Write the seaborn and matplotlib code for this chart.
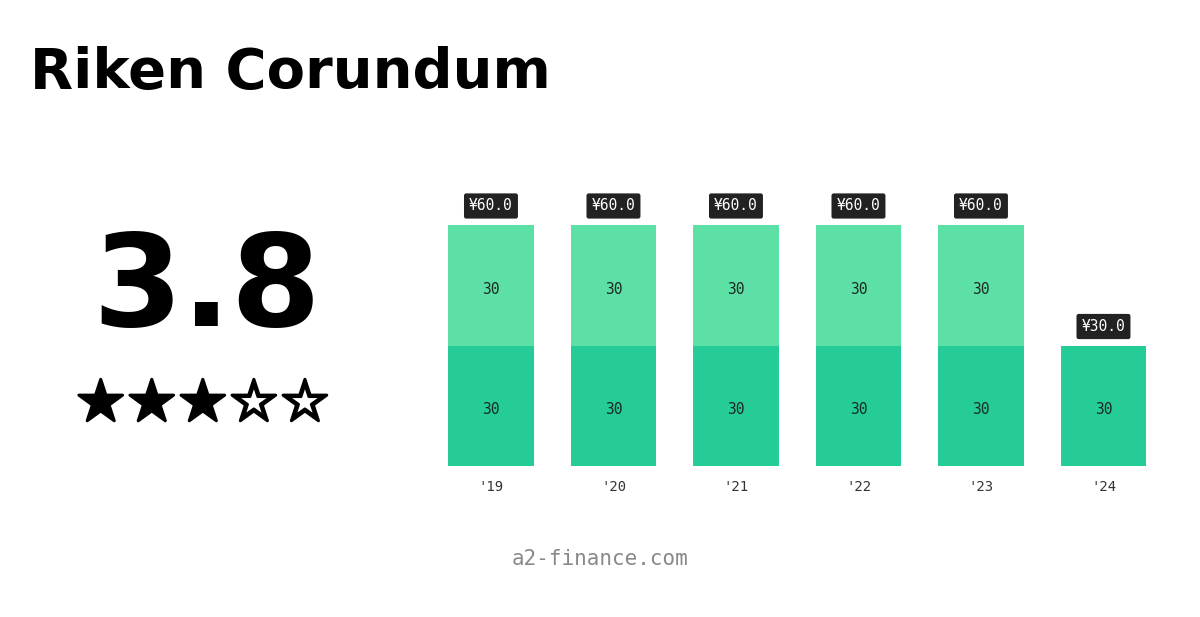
import matplotlib
matplotlib.use("Agg")
import matplotlib.pyplot as plt
import matplotlib.patheffects as pe
import seaborn as sns
import pandas as pd

years = ["'19", "'20", "'21", "'22", "'23", "'24"]
bottom_vals = [30, 30, 30, 30, 30, 30]
top_vals = [30, 30, 30, 30, 30, 0]
title = "Riken Corundum"
rating = 3.8
site = "a2-finance.com"

sns.set_theme(style="white")
plt.rcParams['font.family'] = ['DejaVu Sans']

fig = plt.figure(figsize=(12, 6.17), dpi=100)
fig.patch.set_facecolor("white")

totals = [b + t for b, t in zip(bottom_vals, top_vals)]
df = pd.DataFrame({"year": years, "bottom": bottom_vals, "top": top_vals, "total": totals})

ax = fig.add_axes([0.3581, 0.2447, 0.6125, 0.4883])
sns.barplot(data=df, x="year", y="total", order=years, color="#5DE0A6", width=0.7,
            saturation=1, ax=ax, linewidth=0)
sns.barplot(data=df, x="year", y="bottom", order=years, color="#25CC98", width=0.7,
            saturation=1, ax=ax, linewidth=0)
ax.set_xlim(-0.5, len(years) - 0.5)
ax.set_ylim(0, 75)
for s in ax.spines.values():
    s.set_visible(False)
ax.set_yticks([])
ax.set_xlabel("")
ax.set_ylabel("")
ax.tick_params(axis="x", length=0, pad=10)
for lab in ax.get_xticklabels():
    lab.set_fontfamily("DejaVu Sans Mono")
    lab.set_fontsize(10)
    lab.set_color("#333333")

for i in range(len(years)):
    b = bottom_vals[i]
    t = top_vals[i]
    if b:
        ax.annotate(f"{b}", xy=(i, b / 2), xytext=(0, -4), textcoords="offset pixels",
                    ha="center", va="center", family="DejaVu Sans Mono",
                    fontsize=10.5, color="#1a2a22")
    if t:
        ax.annotate(f"{t}", xy=(i, b + t / 2), xytext=(0, -4), textcoords="offset pixels",
                    ha="center", va="center", family="DejaVu Sans Mono",
                    fontsize=10.5, color="#1a2a22")
    ax.annotate(f"¥{totals[i]:.1f}", xy=(i, totals[i]), xytext=(0, 19), textcoords="offset pixels",
                ha="center", va="center", family="DejaVu Sans Mono", fontsize=10.5, color="white",
                bbox=dict(boxstyle="round,pad=0.35,rounding_size=0.15", fc="#222222", ec="none"))

fig.text(30 / 1200, 1 - 88 / 617, title, fontsize=40.3, fontweight="bold", color="black",
         ha="left", va="baseline")
fig.text(207 / 1200, 1 - 290 / 617, f"{rating}", fontsize=93, fontweight="bold", color="black",
         ha="center", va="center")
n_full = int(rating)
stars = "★" * n_full + "☆" * (5 - n_full)
fig.text(203 / 1200, 1 - 405 / 617, stars, fontsize=41, color="black", ha="center", va="center",
         path_effects=[pe.withStroke(linewidth=2.2, foreground="black")])
fig.text(0.5, 1 - 559 / 617, site, fontsize=15, color="#888888", family="DejaVu Sans Mono",
         ha="center", va="center")

fig.savefig("out.png", dpi=100, facecolor="white")
